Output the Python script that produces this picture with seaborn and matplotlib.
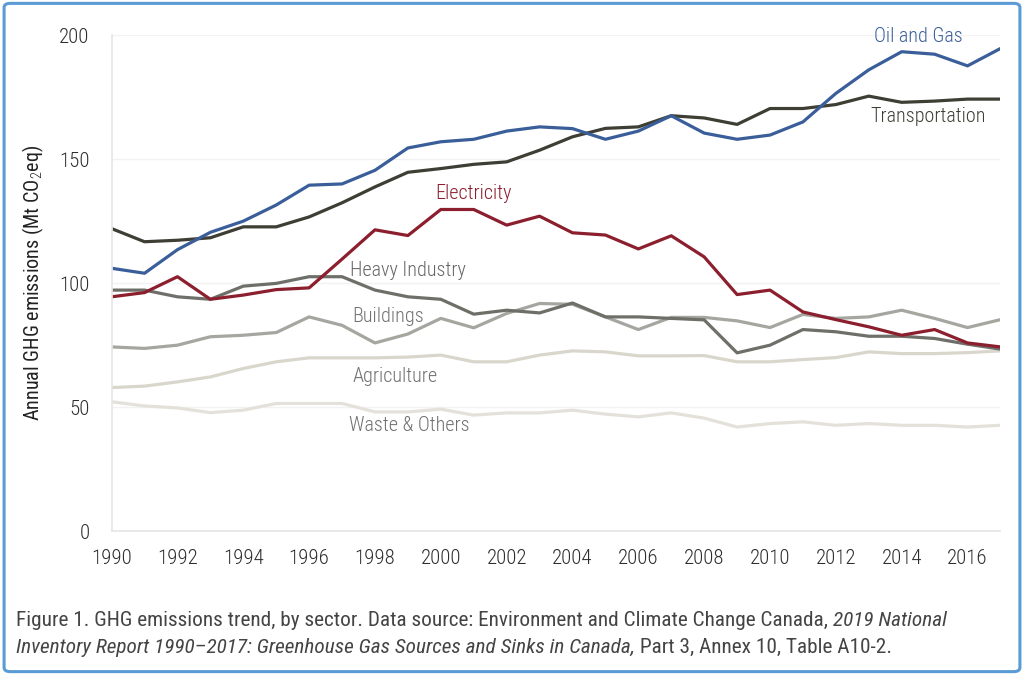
import pandas as pd
import matplotlib.pyplot as plt
import seaborn as sns
from matplotlib import font_manager
from matplotlib.patches import FancyBboxPatch

# values (Mt CO2 eq)
years = list(range(1990, 2018))
oil_gas = [106, 104, 113.5, 120.5, 125, 131.5, 139.5, 140, 145.5, 154.5, 157, 158, 161.3, 163,
           162.3, 158, 161.3, 167.5, 160.5, 158, 159.7, 165, 176.5, 186, 193.3, 192.3, 187.6, 194.6]
transportation = [122, 116.7, 117.3, 118.3, 122.7, 122.7, 126.7, 132.4, 138.8, 144.7, 146.2, 147.9, 148.9, 153.6,
                  159, 162.4, 163, 167.5, 166.6, 164, 170.4, 170.4, 172, 175.4, 172.9, 173.4, 174.2, 174.2]
electricity = [94.5, 96.2, 102.6, 93.5, 95.2, 97.4, 98.1, 109.7, 121.5, 119.2, 129.7, 129.7, 123.4, 127,
               120.3, 119.4, 113.8, 119.1, 110.6, 95.4, 97.2, 88.4, 85.3, 82.4, 79, 81.3, 75.9, 74.3]
heavy_industry = [97.2, 97.2, 94.5, 93.5, 98.8, 99.9, 102.6, 102.6, 97.2, 94.5, 93.5, 87.5, 89.1, 88,
                  92, 86.4, 86.4, 85.8, 85.2, 71.9, 75, 81.3, 80.4, 78.6, 78.6, 77.7, 75.4, 73.4]
buildings = [74.3, 73.7, 75, 78.4, 79, 80.1, 86.4, 83, 75.9, 79.5, 85.8, 82, 87.8, 91.8,
             91.5, 86.4, 81.3, 86.2, 86.2, 84.8, 82.1, 87.4, 85.8, 86.4, 89.1, 85.8, 82.1, 85.3]
agriculture = [57.9, 58.5, 60.2, 62.2, 65.6, 68.3, 69.9, 69.9, 69.9, 70.2, 71, 68.3, 68.3, 71,
               72.7, 72.3, 70.7, 70.7, 70.8, 68.3, 68.3, 69.2, 70, 72.3, 71.6, 71.6, 72, 72.7]
waste = [52.2, 50.5, 49.7, 47.8, 48.8, 51.5, 51.5, 51.5, 48.1, 48.1, 49.2, 46.8, 47.7, 47.7,
         48.8, 47.2, 46.1, 47.7, 45.6, 42, 43.4, 44.1, 42.7, 43.4, 42.7, 42.7, 42, 42.7]

sectors = ['Waste & Others', 'Agriculture', 'Buildings', 'Heavy Industry',
           'Electricity', 'Transportation', 'Oil and Gas']
series = [waste, agriculture, buildings, heavy_industry, electricity, transportation, oil_gas]
colors = ['#e4e1da', '#d9d6cc', '#a6a6a1', '#6f6f69', '#8c1f2e', '#3e3e35', '#3a5e99']
label_colors = ['#707070', '#707070', '#727272', '#666666', '#8c1f2e', '#3e3e35', '#3a5e99']
label_pos = [(1999.05, 42.7), (1998.6, 62.5), (1998.4, 86.7), (1999.0, 105), (2001.0, 136),
             (2014.8, 167), (2014.5, 199.6)]

caption_1 = 'Figure 1. GHG emissions trend, by sector. Data source: Environment and Climate Change Canada, '
caption_1_it = '2019 National'
caption_2_it = 'Inventory Report 1990\u20132017: Greenhouse Gas Sources and Sinks in Canada,'
caption_2 = ' Part 3, Annex 10, Table A10-2.'

df = pd.DataFrame({
    'Year': years * len(sectors),
    'Sector': [s for s in sectors for _ in years],
    'Emissions': [v for vals in series for v in vals],
})

sns.set_theme(style="white")

# pick condensed faces with a light/regular weight if available
faces = {}
for f in font_manager.fontManager.ttflist:
    if f.style == 'normal':
        faces.setdefault(f.name, set()).add(f.weight)

def wnum(w):
    return w if isinstance(w, int) else font_manager.weight_dict.get(w, 400)

def pick(prefs):
    for p in prefs:
        ws = [wnum(w) for w in faces.get(p, [])]
        light = [w for w in ws if w <= 400]
        if light:
            return p, (300 if 300 in light else max(light))
    return 'DejaVu Sans', 400

label_font, label_w = pick(['Open Sans Condensed Light', 'Open Sans Condensed', 'Roboto Condensed',
                            'Roboto Condensed Light', 'PT Sans Narrow', 'Fira Sans Condensed',
                            'Archivo Narrow', 'Liberation Sans Narrow', 'Asap Condensed',
                            'Barlow Semi Condensed', 'Abel'])
cap_font, _ = pick(['Roboto Condensed', 'Fira Sans Condensed', 'Archivo Narrow', 'PT Sans Narrow',
                    'Liberation Sans Narrow', 'Asap Condensed', 'Barlow Semi Condensed'])
plt.rcParams['font.family'] = [label_font, 'DejaVu Sans']
plt.rcParams['font.weight'] = label_w
plt.rcParams['mathtext.fontset'] = 'custom'
plt.rcParams['mathtext.rm'] = f'{label_font}:weight={label_w}'
plt.rcParams['mathtext.default'] = 'rm'

fig = plt.figure(figsize=(10.24, 6.75), dpi=100)
ax = fig.add_axes([0.109, 0.213, 0.868, 0.735])

sns.lineplot(data=df, x='Year', y='Emissions', hue='Sector', hue_order=sectors,
             palette=dict(zip(sectors, colors)), linewidth=2.3, legend=False, ax=ax)

ax.set_xlim(1990, 2017)
ax.set_ylim(0, 200)
ax.set_xticks(range(1990, 2017, 2))
ax.set_yticks([0, 50, 100, 150, 200])
ax.tick_params(axis='both', labelsize=15, colors='#e3e3e3', labelcolor='#2e2e2e', length=6)
ax.tick_params(axis='x', pad=7)
ax.tick_params(axis='y', pad=10)
ax.yaxis.grid(True, color='#f2f2f2', linewidth=1)
for side in ['top', 'right']:
    ax.spines[side].set_visible(False)
ax.spines['left'].set_color('#e6e6e6')
ax.spines['bottom'].set_color('#e6e6e6')
ax.set_xlabel('')
ax.set_ylabel(r'Annual GHG emissions (Mt CO$_2$eq)', fontsize=14.5, color='#222222', labelpad=9)

for name, col, (lx, ly) in zip(sectors, label_colors, label_pos):
    ax.text(lx, ly, name, fontsize=14.5, color=col, ha='center', va='center')

# caption with mixed italic pieces
cap_kw = dict(fontsize=14, color='#444444', family=[cap_font, 'DejaVu Sans'], fontweight='normal')
t1 = fig.text(0.016, 1 - 630 / 675, caption_1, va='bottom', **cap_kw)
a1 = plt.Annotation(caption_1_it, xy=(1, 0), xycoords=t1, va='bottom', style='italic', **cap_kw)
fig.add_artist(a1)
t2 = fig.text(0.016, 1 - 657 / 675, caption_2_it, va='bottom', style='italic', **cap_kw)
a2 = plt.Annotation(caption_2, xy=(1, 0), xycoords=t2, va='bottom', **cap_kw)
fig.add_artist(a2)

# scale caption so line 1 spans the same width as in the reference
r = fig.canvas.get_renderer()
w = t1.get_window_extent(r).width + a1.get_window_extent(r).width
scale = 941 / w
for t in (t1, a1, t2, a2):
    t.set_fontsize(14 * scale)

# outer blue frame
fig.patches.append(FancyBboxPatch((0.004, 0.005), 0.992, 0.99, boxstyle='round,pad=0,rounding_size=0.006',
                                  transform=fig.transFigure, fill=False, edgecolor='#5b9bd5', linewidth=2.2))

fig.savefig('out.png', dpi=100)
